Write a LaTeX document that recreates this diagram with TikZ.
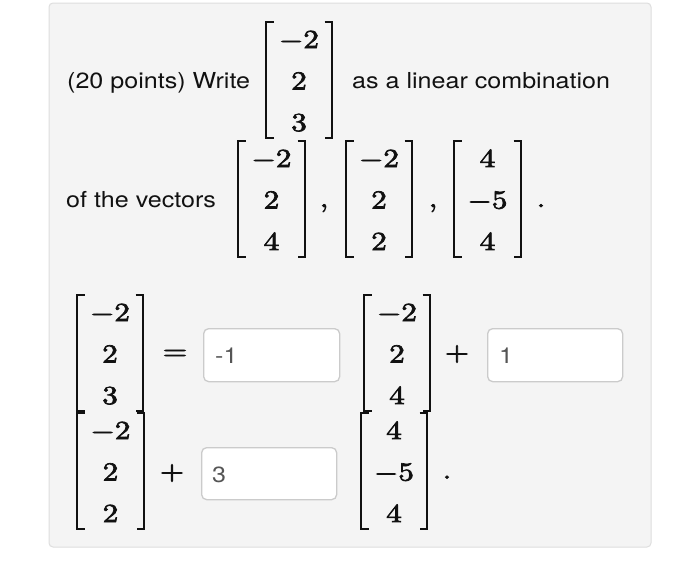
\documentclass[tikz,border=0pt]{standalone}
\usepackage{fontspec}
\usepackage{graphicx}
\newfontfamily\hv{TeX Gyre Heros}
\definecolor{panelfill}{HTML}{F4F4F4}
\definecolor{panelline}{HTML}{DEDEDE}
\definecolor{boxline}{HTML}{CBCBCB}
\definecolor{ink}{HTML}{111111}
\definecolor{boxink}{HTML}{555555}
\newcommand\mth[1]{\scalebox{3.12}[2.6]{\special{pdf:literal direct q 2 Tr 0.25 w}$#1$\special{pdf:literal direct Q}}}
\newcommand\sftxt[1]{\scalebox{1.14}[1]{#1}}
\tikzset{
  brk/.style={line width=2.4pt, draw=ink, line cap=butt, line join=miter},
  ent/.style={anchor=base, inner sep=0pt, text=ink, font=\fontsize{10}{12}\selectfont},
  prose/.style={anchor=base west, inner sep=0pt, text=ink, font=\hv\fontsize{22}{26}\selectfont},
  ansbox/.style={draw=boxline, fill=white, line width=1.3pt, rounded corners=5pt, inner sep=0pt, anchor=north west},
  anstext/.style={anchor=base west, inner sep=0pt, text=boxink, font=\hv\fontsize{22}{26}\selectfont},
}
% #1 name, #2 left x, #3 right x, #4 top y, #5 #6 #7 entries
\newcommand\colvec[7]{%
  \draw[brk] (#2+7.5,#4) -- (#2,#4) -- (#2,#4+116) -- (#2+7.5,#4+116);
  \draw[brk] (#3-7.5,#4) -- (#3,#4) -- (#3,#4+116) -- (#3-7.5,#4+116);
  \node[ent] (#1a) at ({(#2+#3)/2},#4+26) {\mth{#5}};
  \node[ent] (#1b) at ({(#2+#3)/2},#4+67.5) {\mth{#6}};
  \node[ent] (#1c) at ({(#2+#3)/2},#4+109) {\mth{#7}};
}
\begin{document}
\begin{tikzpicture}[x=1pt,y=-1pt]
\useasboundingbox (0,0) rectangle (700,573);
\fill[white] (0,0) rectangle (700,573);
\draw[panelline, fill=panelfill, line width=1pt, rounded corners=4pt] (49,3) rectangle (651,547);

% first line
\node[prose] (write) at (67,88) {\sftxt{(20 points) Write}};
\colvec{t}{266}{332}{22}{-2}{2}{3}
\node[prose] (lincomb) at (352,88) {\sftxt{as a linear combination}};

% second line
\node[prose] (vectors) at (66,207) {\sftxt{of the vectors}};
\colvec{u}{238}{305}{141}{-2}{2}{4}
\node[ent] (c1) at (324,207) {\mth{,}};
\colvec{v}{346}{412}{141}{-2}{2}{2}
\node[ent] (c2) at (433,207) {\mth{,}};
\colvec{w}{454}{521}{141}{4}{-5}{4}
\node[ent] (p1) at (541,207) {\mth{.}};

% equation row 1
\colvec{A}{77}{143}{295}{-2}{2}{3}
\node[ent] (eq) at (175,359.5) {\mth{=}};
\node[ansbox, minimum width=136pt, minimum height=53pt] (box1) at (203,328) {};
\node[anstext] (ans1) at (215,363) {\sftxt{-1}};
\colvec{B}{364}{430}{295}{-2}{2}{4}
\node[ent] (plus1) at (457,360.5) {\mth{+}};
\node[ansbox, minimum width=135pt, minimum height=53pt] (box2) at (487,328) {};
\node[anstext] (ans2) at (499,363) {\sftxt{1}};

% equation row 2
\colvec{C}{77}{144}{413}{-2}{2}{2}
\node[ent] (plus2) at (172,479.5) {\mth{+}};
\node[ansbox, minimum width=135pt, minimum height=52pt] (box3) at (201,447) {};
\node[anstext] (ans3) at (212,482) {\sftxt{3}};
\colvec{D}{361}{427}{413}{4}{-5}{4}
\node[ent] (p2) at (447,478.5) {\mth{.}};
\end{tikzpicture}
\end{document}
